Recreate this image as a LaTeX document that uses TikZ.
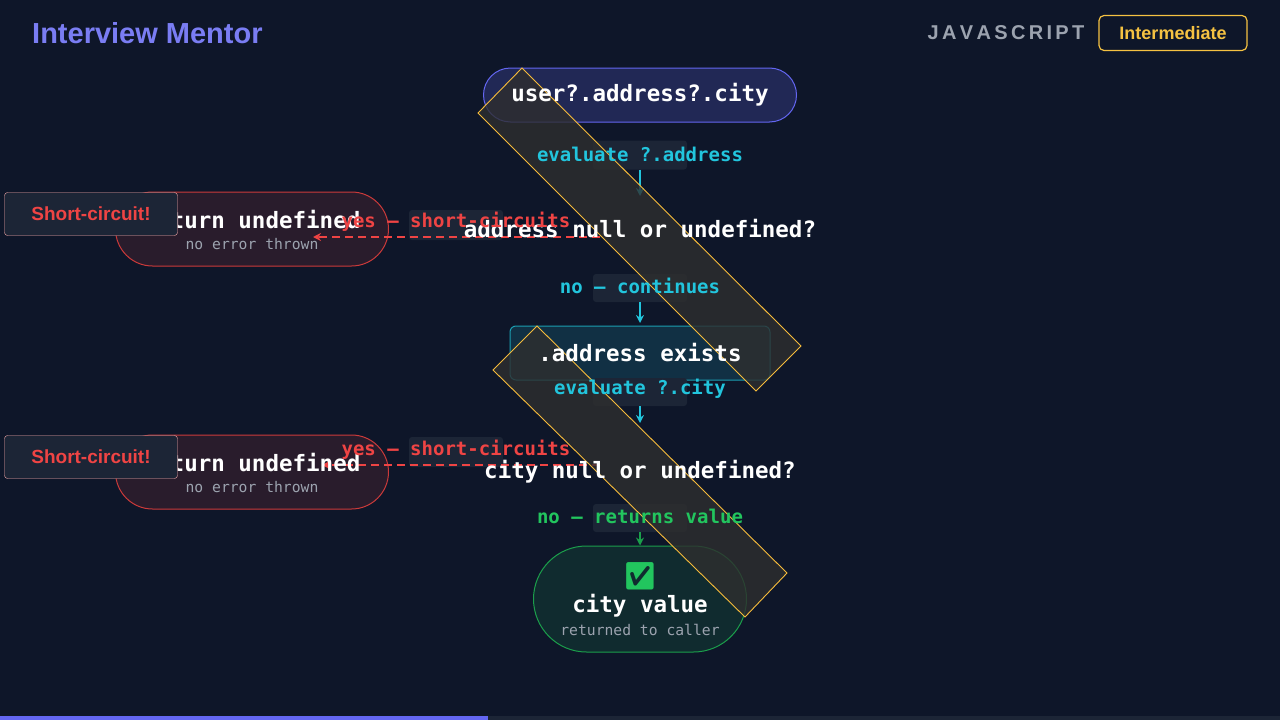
\documentclass[tikz,border=0pt]{standalone}
\usepackage{fontspec}
\setmainfont{Liberation Sans}
\setmonofont{DejaVu Sans Mono}
\newfontfamily\emojifont{Noto Emoji}
\usetikzlibrary{arrows.meta,shapes.misc}
\definecolor{bg}{HTML}{0E1629}
\definecolor{indigo}{HTML}{6366F1}
\definecolor{cyanc}{HTML}{22C5DD}
\definecolor{redc}{HTML}{EF4444}
\definecolor{greenc}{HTML}{22C55E}
\definecolor{grayc}{HTML}{9CA3AF}
\definecolor{yel}{HTML}{F5C242}
\definecolor{lblbg}{HTML}{1C2536}
\definecolor{diamc}{HTML}{2E2E2E}
\tikzset{
  x=1pt,y=-1pt,
  pill/.style={rounded rectangle,draw,line width=1pt,inner sep=0pt},
  lblbox/.style={fill=lblbg,rounded corners=3pt,inner sep=0pt},
  mono/.style={font=\ttfamily\bfseries\fontsize{22.5}{26}\selectfont,text=white},
  lbl/.style={font=\ttfamily\bfseries\fontsize{19}{22}\selectfont},
  sub/.style={font=\ttfamily\fontsize{14.7}{17}\selectfont,text=grayc},
  slab/.style={font=\bfseries\fontsize{19}{22}\selectfont,text=redc,fill=lblbg,draw=redc!45,rounded corners=3pt,minimum width=173pt,minimum height=43pt,inner sep=0pt},
  diam/.style={fill=diamc,fill opacity=0.8,draw=yel!90!orange,line width=0.9pt},
  arr/.style={-{Stealth[length=8pt,width=8pt]},line width=1.2pt},
  dsh/.style={dash pattern=on 8pt off 5pt,line width=1.5pt},
}
\begin{document}
\begin{tikzpicture}
\fill[bg] (0,0) rectangle (1280,720);
\useasboundingbox (0,0) rectangle (1280,720);
\node[anchor=west,inner sep=0pt,font=\bfseries\fontsize{29}{32}\selectfont,text=indigo!85!white] (title) at (32,33) {Interview Mentor};
\node[font=\bfseries\fontsize{20}{24}\selectfont,text=grayc] (lang) at (1006,33) {J\,A\,V\,A\,S\,C\,R\,I\,P\,T};
\node[draw=yel,line width=1.2pt,rounded corners=5pt,minimum width=148pt,minimum height=35pt,font=\bfseries\fontsize{18}{20}\selectfont,text=yel] (lvl) at (1173,33) {Intermediate};
\node[pill,fill=indigo!22!bg,draw=indigo,minimum width=313pt,minimum height=54pt] (start) at (640,95) {};
\node[draw=cyanc!80!black,fill=cyanc!15!bg,line width=1pt,rounded corners=6pt,minimum width=260pt,minimum height=54pt] (exists) at (640,353) {};
\node[pill,fill=greenc!12!bg,draw=greenc!80!black,minimum width=213pt,minimum height=106pt] (city) at (640,599) {};
\node[pill,fill=redc!12!bg,draw=redc!85!black,minimum width=273pt,minimum height=74pt] (ret1) at (252,229) {};
\node[pill,fill=redc!12!bg,draw=redc!85!black,minimum width=273pt,minimum height=74pt] (ret2) at (252,472) {};
\node[lblbox,minimum width=94pt,minimum height=29pt] (b1) at (640,155) {};
\node[lblbox,minimum width=94pt,minimum height=28pt] (b2) at (640,288) {};
\node[lblbox,minimum width=94pt,minimum height=28pt] (b3) at (640,392) {};
\node[lblbox,minimum width=94pt,minimum height=28pt] (b4) at (640,518) {};
\node[lblbox,minimum width=94pt,minimum height=30pt] (b5) at (456,225) {};
\node[lblbox,minimum width=94pt,minimum height=30pt] (b6) at (456,452) {};
\draw[arr,cyanc] (b1.south) -- (640,196);
\draw[arr,cyanc] (b2.south) -- (640,323);
\draw[arr,cyanc] (b3.south) -- (640,423);
\draw[arr,greenc!80!black] (b4.south) -- (city.north);
\draw[arr,redc,dsh] (600,237) -- (313,237);
\draw[arr,redc,dsh] (600,465) -- (322,465);
\draw[diam] (522,68) -- (801,346) -- (756,391) -- (478,113) -- cycle;
\draw[diam] (537,326) -- (787,573) -- (745,617) -- (493,370) -- cycle;
\node[mono] (t0) at (640,95) {user?.address?.city};
\node[lbl,text=cyanc] (l1) at (640,154) {evaluate ?.address};
\node[mono] (q1) at (640,229) {address null or undefined?};
\node[lbl,text=cyanc] (l2) at (640,286) {no — continues};
\node[mono] (t1) at (640,353) {.address exists};
\node[lbl,text=cyanc] (l3) at (640,389) {evaluate ?.city};
\node[mono] (q2) at (640,472) {city null or undefined?};
\node[lbl,text=greenc] (l4) at (640,516) {no — returns value};
\node[font=\emojifont\fontsize{27}{29}\selectfont,text=greenc] (em) at (640,576) {✅};
\node[mono] (t2) at (640,606) {city value};
\node[sub] (s2) at (640,630) {returned to caller};
\node[mono] (r1) at (252,220) {return undefined};
\node[sub] (rs1) at (252,244) {no error thrown};
\node[mono] (r2) at (252,463) {return undefined};
\node[sub] (rs2) at (252,487) {no error thrown};
\node[lbl,text=redc] (y1) at (456,222) {yes — short-circuits};
\node[lbl,text=redc] (y2) at (456,450) {yes — short-circuits};
\node[slab] (sc1) at (91,214) {Short-circuit!};
\node[slab] (sc2) at (91,457) {Short-circuit!};
\fill[lblbg] (0,716) rectangle (1280,720);
\fill[indigo] (0,716) rectangle (488,720);
\end{tikzpicture}
\end{document}
